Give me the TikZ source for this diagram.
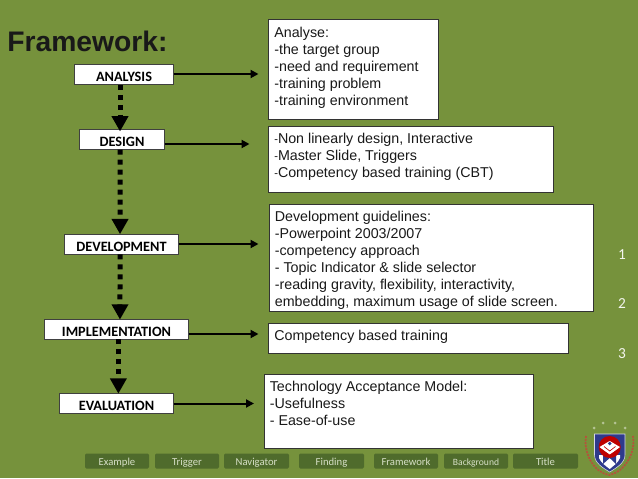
\documentclass[tikz,border=0pt]{standalone}
\usepackage{fontspec}
\setmainfont{Liberation Sans}
\newfontfamily\carlito{Carlito}
\usetikzlibrary{arrows.meta}
\newlength\pxu
\setlength\pxu{0.75pt}
\newcommand\cardtext[3]{\parbox[c][#2\pxu][t]{#1\pxu}{\vspace*{4\pxu}\raggedright #3}}
\newcommand\smdash{{\carlito\fontsize{9}{12.75}\selectfont -}}
\definecolor{bgreen}{HTML}{76923C}
\definecolor{navgreen}{HTML}{4F6B2C}
\definecolor{navtext}{HTML}{D6DFC6}
\definecolor{shieldblue}{HTML}{2E3A8C}
\definecolor{logored}{HTML}{B5523B}
\tikzset{
  stage/.style={draw=black!75,line width=0.6pt,fill=white,font=\carlito\bfseries\fontsize{10.7}{12}\selectfont,inner sep=0pt,text=black,text height=11pt,text depth=0.4pt},
  card/.style={draw=black!80,line width=0.5pt,fill=white,anchor=north west,inner xsep=6\pxu,inner ysep=3\pxu,text=black!90,font=\fontsize{10.7}{12.75}\selectfont},
  navbtn/.style={fill=navgreen,rounded corners=1pt,inner sep=0pt,text=navtext,font=\carlito\fontsize{8}{10}\selectfont,minimum height=15\pxu,text height=7pt,text depth=1pt},
  flow/.style={line width=1.5pt,-{Triangle[length=6pt,width=6pt]}},
  phase/.style={line width=3.75pt,dash pattern=on 3.75pt off 3.75pt,-{Triangle[length=11.5pt,width=12pt,sep=0pt]}},
  slidenum/.style={text=white!92!bgreen,font=\carlito\fontsize{11.5}{12}\selectfont,inner sep=0pt}
}
\begin{document}
\begin{tikzpicture}[x=0.75pt,y=-0.75pt]
\useasboundingbox (0,0) rectangle (638,478);
\fill[bgreen] (0,0) rectangle (638,478);

\node[anchor=base west,inner sep=0pt,font=\bfseries\fontsize{21.2}{24}\selectfont,text=black!90] (title) at (7,51) {Framework:};

\node[stage,minimum width=99\pxu,minimum height=20.5\pxu] (analysis) at (124,74.3) {ANALYSIS};
\node[stage,minimum width=85\pxu,minimum height=20\pxu] (design) at (122,139.2) {DESIGN};
\node[stage,minimum width=114\pxu,minimum height=20\pxu] (development) at (121.5,244) {DEVELOPMENT};
\node[stage,minimum width=144\pxu,minimum height=20\pxu] (implementation) at (116.5,329) {IMPLEMENTATION};
\node[stage,minimum width=114\pxu,minimum height=20\pxu] (evaluation) at (116.5,403.5) {EVALUATION};

\node[card] (c1) at (268,19.5) {\cardtext{158}{93.5}{Analyse:\\-the target group\\-need and requirement\\-training problem\\-training environment}};
\node[card] (c2) at (268,126) {\cardtext{272.5}{60}{\smdash Non linearly design, Interactive\\\smdash Master Slide, Triggers\\\smdash Competency based training (CBT)}};
\node[card] (c3) at (268.5,204) {\cardtext{312}{101}{Development guidelines:\\-Powerpoint 2003/2007\\-competency approach\\- Topic Indicator \& slide selector\\-reading gravity, flexibility, interactivity,\\embedding, maximum usage of slide screen.}};
\node[card] (c4) at (268,323) {\cardtext{288}{24}{Competency based training}};
\node[card] (c5) at (263.5,373.5) {\cardtext{257}{68.5}{Technology Acceptance Model:\\-Usefulness\\- Ease-of-use}};

\coordinate (e1) at (258.5,74);
\coordinate (e2) at (249.5,144);
\coordinate (e3) at (258.5,244);
\coordinate (e4) at (258.5,334);
\coordinate (e5) at (254,403.5);
\draw[flow] (analysis.east |- e1) -- (e1);
\draw[flow] (design.east |- e2) -- (e2);
\draw[flow] (development.east |- e3) -- (e3);
\draw[flow] (implementation.east |- e4) -- (e4);
\draw[flow] (evaluation.east |- e5) -- (e5);

\draw[phase] ([xshift=-3pt]analysis.south) -- ([xshift=-1.5pt,yshift=-2pt]design.north);
\draw[phase] ([xshift=-1.5pt]design.south) -- ([xshift=-1.1pt,yshift=-0.5pt]development.north);
\draw[phase] ([xshift=-1.1pt]development.south) -- ([xshift=2.6pt,yshift=-0.75pt]implementation.north);
\draw[phase] ([xshift=1.4pt]implementation.south) -- ([xshift=1.4pt,yshift=-0.4pt]evaluation.north);

\node[navbtn,minimum width=64\pxu] (n1) at (117,461) {Example};
\node[navbtn,minimum width=64\pxu] (n2) at (187,461) {Trigger};
\node[navbtn,minimum width=65\pxu] (n3) at (256.5,461) {Navigator};
\node[navbtn,minimum width=65\pxu] (n4) at (331.5,461) {Finding};
\node[navbtn,minimum width=64\pxu] (n5) at (406,461) {Framework};
\node[navbtn,minimum width=64\pxu,font=\carlito\fontsize{7.2}{10}\selectfont] (n6) at (476,461) {Background};
\node[navbtn,minimum width=65\pxu] (n7) at (545.5,461) {Title};

\node[slidenum] (s1) at (622,255) {1};
\node[slidenum] (s2) at (622,304) {2};
\node[slidenum] (s3) at (622,354) {3};

% crest
\draw[logored,line width=1.3pt,dash pattern=on 1.5pt off 0.8pt] (586,436) .. controls (583,456) and (596,473) .. (609,475) .. controls (622,473) and (636,456) .. (633,436);
\fill[white!45!bgreen] (594,428) circle (1.5) (603,423) circle (1.5) (615,423) circle (1.5) (625,428) circle (1.5);
\draw[white!80!shieldblue,fill=shieldblue,line width=0.4pt] (594.5,434) -- (625,434) -- (625,455) .. controls (625,463) and (616,468) .. (609.7,472) .. controls (603,468) and (594.5,463) .. (594.5,455) -- cycle;
\fill[white] (599,455) -- (620,455) -- (620,458) .. controls (618,463) and (613,466) .. (609.7,469) .. controls (606,466) and (601,463) .. (599,458) -- cycle;
\fill[shieldblue] (609.7,458) -- (603,455) -- (603,464) -- cycle (609.7,458) -- (616,455) -- (616,464) -- cycle;
\fill[red!75!black] (609.7,447) circle (11);
\fill[white] (599.5,447) -- (609.7,441) -- (620,447) -- (609.7,455) -- cycle;
\draw[red!75!black,line width=0.5pt] (601.5,449.5) -- (609.7,455) -- (618,449.5) (604,446.5) -- (609.7,451) -- (615.5,446.5);
\fill[shieldblue] (609.7,443.5) circle (1.8);
\end{tikzpicture}
\end{document}
